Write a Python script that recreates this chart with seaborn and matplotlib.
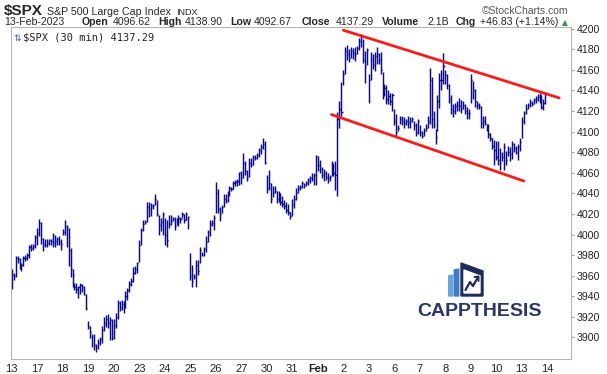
import numpy as np
import pandas as pd
import matplotlib
matplotlib.use("Agg")
import matplotlib.pyplot as plt
from matplotlib.patches import Polygon
import seaborn as sns

# ---------------- $SPX 30 min bars, 13 bars per session ----------------
day_labels = ["13", "17", "18", "19", "20", "23", "24", "25", "26", "27", "30", "31",
              "Feb", "2", "3", "6", "7", "8", "9", "10", "13", "14"]

highs = [
    3966, 3963, 3979, 3979, 3977, 3972, 3979, 3980, 3982, 3990, 3991, 3991, 4000,  # Jan 13
    4006, 4015, 4012, 3997, 3996, 3996, 3996, 3996, 4001, 4000, 3998, 3999, 3996,  # Jan 17
    4005, 4014, 4009, 4006, 3987, 3966, 3953, 3953, 3950, 3953, 3952, 3950, 3942,  # Jan 18
    3916, 3911, 3903, 3903, 3894, 3898, 3900, 3911, 3920, 3922, 3923, 3920, 3918,  # Jan 19
    3918, 3924, 3936, 3935, 3936, 3935, 3945, 3948, 3955, 3958, 3968, 3969, 3973,  # Jan 20
    3995, 4006, 4014, 4014, 4032, 4032, 4031, 4030, 4039, 4034, 4019, 4016, 4022,  # Jan 23
    4016, 4014, 4019, 4019, 4017, 4017, 4016, 4019, 4017, 4022, 4020, 4022, 4018,  # Jan 24
    3982, 3970, 3962, 3975, 3975, 3988, 3983, 3988, 3999, 4004, 4014, 4014, 4019,  # Jan 25
    4051, 4044, 4027, 4029, 4039, 4039, 4042, 4047, 4046, 4052, 4053, 4054, 4061,  # Jan 26
    4062, 4079, 4071, 4063, 4074, 4074, 4077, 4077, 4079, 4084, 4088, 4094, 4091,  # Jan 27
    4058, 4063, 4050, 4047, 4047, 4042, 4042, 4040, 4037, 4034, 4032, 4030, 4022,  # Jan 30
    4035, 4038, 4045, 4048, 4048, 4052, 4050, 4052, 4055, 4057, 4060, 4060, 4077,  # Jan 31
    4076, 4072, 4066, 4064, 4062, 4060, 4058, 4071, 4070, 4071, 4119, 4130, 4148,  # Feb 1
    4160, 4182, 4184, 4180, 4182, 4181, 4182, 4183, 4191, 4195, 4190, 4178, 4181,  # Feb 2
    4156, 4177, 4175, 4177, 4182, 4176, 4177, 4158, 4146, 4145, 4140, 4138, 4138,  # Feb 3
    4122, 4117, 4106, 4115, 4115, 4114, 4112, 4115, 4114, 4114, 4110, 4108, 4112,  # Feb 6
    4106, 4101, 4104, 4107, 4115, 4162, 4153, 4120, 4103, 4136, 4157, 4160, 4176,  # Feb 7
    4160, 4156, 4146, 4136, 4127, 4128, 4130, 4133, 4131, 4130, 4127, 4124, 4122,  # Feb 8
    4156, 4149, 4141, 4130, 4128, 4125, 4115, 4115, 4107, 4107, 4099, 4094, 4092,  # Feb 9
    4091, 4091, 4084, 4080, 4089, 4081, 4086, 4085, 4091, 4089, 4086, 4088, 4094,  # Feb 10
    4114, 4120, 4127, 4128, 4132, 4130, 4133, 4135, 4137, 4138, 4136, 4132, 4139,  # Feb 13
]

lows = [
    3947, 3956, 3959, 3972, 3966, 3965, 3969, 3974, 3975, 3977, 3984, 3985, 3987,
    3990, 3999, 3991, 3984, 3988, 3988, 3990, 3990, 3988, 3988, 3990, 3990, 3985,
    4000, 4000, 3988, 3969, 3959, 3949, 3946, 3943, 3938, 3942, 3944, 3941, 3927,
    3908, 3899, 3891, 3888, 3886, 3889, 3893, 3895, 3906, 3910, 3909, 3897, 3897,
    3898, 3909, 3918, 3926, 3927, 3924, 3929, 3936, 3944, 3950, 3954, 3962, 3963,
    3973, 3990, 4003, 4010, 4012, 4017, 4018, 4025, 4029, 4018, 4000, 4003, 4000,
    3990, 3988, 4006, 4009, 4013, 4004, 4009, 4008, 4011, 4016, 4011, 4014, 4005,
    3956, 3949, 3957, 3949, 3961, 3972, 3979, 3979, 3983, 3993, 3999, 4008, 4004,
    4021, 4021, 4013, 4021, 4027, 4031, 4032, 4037, 4042, 4044, 4047, 4047, 4048,
    4049, 4055, 4058, 4052, 4056, 4066, 4068, 4072, 4073, 4075, 4078, 4083, 4069,
    4040, 4043, 4031, 4036, 4040, 4031, 4032, 4029, 4027, 4025, 4021, 4019, 4015,
    4018, 4026, 4034, 4040, 4043, 4045, 4045, 4047, 4048, 4050, 4052, 4048, 4048,
    4062, 4060, 4055, 4052, 4053, 4050, 4052, 4057, 4057, 4043, 4037, 4104, 4115,
    4145, 4156, 4170, 4168, 4172, 4171, 4169, 4175, 4179, 4182, 4167, 4147, 4165,
    4128, 4150, 4161, 4159, 4166, 4166, 4156, 4132, 4135, 4127, 4127, 4126, 4120,
    4106, 4096, 4101, 4107, 4106, 4104, 4106, 4104, 4104, 4109, 4102, 4096, 4098,
    4096, 4094, 4096, 4101, 4104, 4107, 4104, 4104, 4088, 4101, 4123, 4140, 4146,
    4146, 4141, 4128, 4117, 4114, 4117, 4120, 4120, 4118, 4122, 4117, 4112, 4112,
    4128, 4132, 4124, 4122, 4122, 4104, 4104, 4106, 4101, 4094, 4091, 4083, 4068,
    4072, 4068, 4063, 4071, 4063, 4068, 4076, 4071, 4073, 4080, 4078, 4072, 4081,
    4094, 4107, 4117, 4122, 4124, 4125, 4127, 4128, 4130, 4128, 4122, 4121, 4127,
]

closes = [
    3961, 3960, 3977, 3976, 3970, 3970, 3977, 3977, 3980, 3988, 3987, 3989, 3998,
    4001, 4011, 3996, 3991, 3990, 3992, 3995, 3994, 3993, 3994, 3996, 3993, 3991,
    4002, 4008, 4006, 3985, 3966, 3961, 3949, 3947, 3949, 3951, 3949, 3942, 3929,
    3911, 3905, 3900, 3893, 3891, 3895, 3898, 3907, 3914, 3918, 3914, 3917, 3899,
    3912, 3920, 3933, 3930, 3932, 3930, 3940, 3946, 3952, 3955, 3963, 3966, 3972,
    3990, 4004, 4010, 4012, 4027, 4025, 4028, 4029, 4035, 4020, 4009, 4012, 4020,
    4000, 3995, 4010, 4013, 4015, 4008, 4014, 4016, 4015, 4020, 4014, 4020, 4017,
    3960, 3955, 3960, 3970, 3965, 3985, 3980, 3986, 3993, 4002, 4010, 4011, 4016,
    4040, 4025, 4020, 4027, 4035, 4034, 4040, 4045, 4044, 4050, 4051, 4052, 4060,
    4055, 4070, 4062, 4056, 4070, 4068, 4075, 4074, 4077, 4082, 4085, 4088, 4070,
    4045, 4050, 4035, 4040, 4042, 4035, 4036, 4032, 4030, 4028, 4024, 4022, 4018,
    4030, 4035, 4040, 4045, 4046, 4050, 4048, 4050, 4053, 4055, 4055, 4058, 4076,
    4068, 4064, 4058, 4060, 4056, 4055, 4056, 4064, 4060, 4058, 4112, 4122, 4119,
    4156, 4178, 4175, 4172, 4178, 4176, 4175, 4181, 4188, 4192, 4170, 4163, 4179,
    4150, 4170, 4165, 4174, 4175, 4170, 4160, 4138, 4142, 4132, 4135, 4130, 4136,
    4110, 4100, 4104, 4112, 4110, 4108, 4110, 4108, 4110, 4112, 4106, 4100, 4110,
    4100, 4096, 4101, 4104, 4110, 4150, 4112, 4106, 4095, 4130, 4150, 4150, 4164,
    4155, 4145, 4132, 4122, 4120, 4125, 4126, 4125, 4122, 4126, 4120, 4118, 4118,
    4150, 4140, 4130, 4126, 4125, 4108, 4110, 4108, 4103, 4098, 4094, 4086, 4082,
    4075, 4072, 4070, 4075, 4085, 4072, 4080, 4078, 4088, 4084, 4080, 4085, 4090,
    4110, 4118, 4122, 4126, 4128, 4127, 4131, 4132, 4134, 4136, 4124, 4128, 4137,
]

# channel lines drawn on the chart (bar number, price)
upper_bar = [169, 279]
upper_px = [4198.6, 4132.8]
lower_bar = [163, 261]
lower_px = [4116.6, 4052.0]

bars_per_day = 13

df = pd.DataFrame({"high": highs, "low": lows, "close": closes})
df["bar"] = np.arange(len(df))

sns.set_style("white")
plt.rcParams["font.family"] = ["Liberation Sans", "DejaVu Sans"]

W, H = 607, 374
fig = plt.figure(figsize=(W / 100, H / 100), dpi=100)


def fx(x):
    return x / W


def fy(y):
    return 1 - y / H


left, right, top, bottom = 10.7, 570.7, 26.5, 359
ax = fig.add_axes([fx(left), fy(bottom), fx(right - left), (bottom - top) / H])

bar_col = "#0a0a8e"
ax.vlines(df["bar"], df["low"], df["high"], color=bar_col, lw=1.05)
ax.hlines(df["close"], df["bar"], df["bar"] + 0.6, color=bar_col, lw=1.0)

sns.lineplot(x=upper_bar, y=upper_px, ax=ax, color="#ff1a1a", lw=2.0)
sns.lineplot(x=lower_bar, y=lower_px, ax=ax, color="#ff1a1a", lw=2.0)

ax.set_xlim(-0.5, 284.9)
ax.set_ylim(3879, 4202.2)

ax.set_xticks([i * bars_per_day for i in range(len(day_labels))])
ax.set_xticklabels(day_labels)
for t in ax.get_xticklabels():
    if t.get_text() == "Feb":
        t.set_fontweight("bold")
ax.yaxis.tick_right()
ax.set_yticks(np.arange(3900, 4201, 20))
ax.tick_params(axis="x", length=2, pad=1.5, labelsize=8, color="#999999", labelcolor="#222222")
ax.tick_params(axis="y", length=2.5, pad=1.5, labelsize=7.6, color="#999999", labelcolor="#222222")
for s in ax.spines.values():
    s.set_color("#b5b5b5")
    s.set_linewidth(0.8)
ax.grid(False)

# ---- header ----
fig.text(fx(4), fy(15.5), "$SPX", fontsize=11, fontweight="bold", va="baseline")
fig.text(fx(47), fy(15), "S&P 500 Large Cap Index", fontsize=7.7, va="baseline")
fig.text(fx(176), fy(15), "INDX", fontsize=6.5, va="baseline")
fig.text(fx(568), fy(14), "\u00a9StockCharts.com", fontsize=7.5, color="#555555",
         ha="right", va="baseline")

row2 = [(4.6, "13-Feb-2023", "normal"), (82, "Open", "bold"), (113, "4096.62", "normal"),
        (158, "High", "bold"), (185, "4138.90", "normal"), (230, "Low", "bold"),
        (254, "4092.67", "normal"), (302, "Close", "bold"), (336, "4137.29", "normal"),
        (382, "Volume", "bold"), (427, "2.1B", "normal"), (456, "Chg", "bold"),
        (480, "+46.83 (+1.14%)", "normal")]
for x, s, w in row2:
    fig.text(fx(x), fy(25), s, fontsize=7.6, fontweight=w, va="baseline")
fig.text(fx(562), fy(25), "\u25b2", fontsize=5.5, color="#2f9a3c", va="baseline",
         family="DejaVu Sans")

fig.text(fx(13), fy(41), "\u21c5", fontsize=6.5, color="#3a5bb8", va="baseline",
         family="DejaVu Sans")
fig.text(fx(23), fy(41), "$SPX (30 min) 4137.29", fontsize=7.5, va="baseline",
         family="DejaVu Sans Mono", color="#222222")

# ---- logo ----
fig.patches.append(Polygon([(fx(448.7), fy(276)), (fx(452.7), fy(275)), (fx(452.7), fy(296)),
                            (fx(448.7), fy(296))], closed=True, color="#6aa6de",
                           transform=fig.transFigure))
fig.patches.append(Polygon([(fx(454.3), fy(270)), (fx(458.7), fy(269)), (fx(458.7), fy(296)),
                            (fx(454.3), fy(296))], closed=True, color="#3c7dc4",
                           transform=fig.transFigure))
fig.patches.append(Polygon([(fx(461), fy(263)), (fx(483), fy(271)), (fx(483), fy(296)),
                            (fx(461), fy(296))], closed=True, color="#1f2a5e",
                           transform=fig.transFigure))
fig.patches.append(Polygon([(fx(464), fy(270)), (fx(480), fy(276)), (fx(480), fy(293)),
                            (fx(464), fy(293))], closed=True, color="white",
                           transform=fig.transFigure))
fig.lines.append(plt.Line2D([fx(465.5), fx(470), fx(473), fx(478)],
                            [fy(290), fy(282), fy(286), fy(277)],
                            color="#1f2a5e", lw=1.6, transform=fig.transFigure))
fig.lines.append(plt.Line2D([fx(474.5), fx(478.5), fx(478.5)],
                            [fy(277), fy(276.5), fy(281)],
                            color="#1f2a5e", lw=1.4, transform=fig.transFigure))
fig.text(fx(479), fy(316), "CAPPTHESIS", fontsize=14, fontweight="bold",
         color="#2c3768", ha="center", va="baseline")

fig.savefig("out.png", dpi=100)
